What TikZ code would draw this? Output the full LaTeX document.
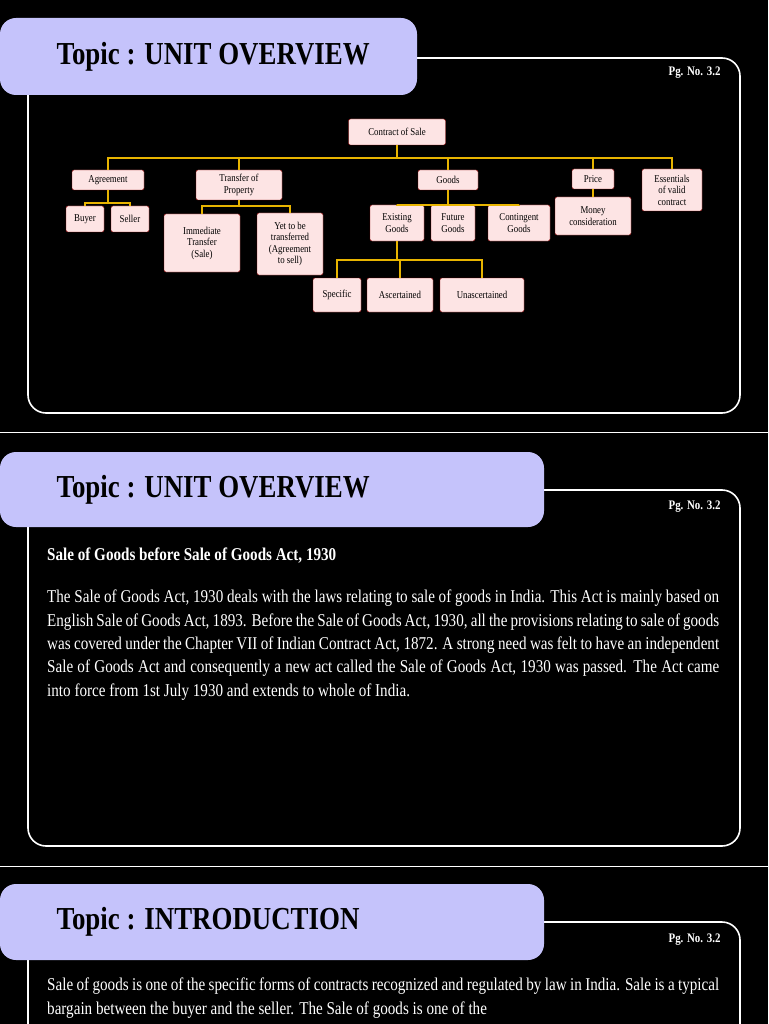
\documentclass[tikz,border=0pt]{standalone}
\usepackage{fontspec}
\setmainfont{Liberation Serif}[FakeStretch=0.84]
\begin{document}
\begin{tikzpicture}[x=1pt,y=-1pt,
  box/.style={draw=red!55!black,fill=boxfill,rounded corners=2pt,align=center,font=\fontsize{10.5}{11.5}\selectfont,inner sep=1pt},
  ln/.style={draw=linegold,line width=1.1pt},
  frame/.style={draw=white,line width=1.6pt,rounded corners=18pt},
  hdr/.style={fill=lav,rounded corners=16pt},
  ttl/.style={anchor=west,font=\fontsize{32}{34}\selectfont\bfseries},
  pg/.style={anchor=east,white,font=\fontsize{13}{14}\selectfont\bfseries},
  para/.style={anchor=north west,white,text width=672pt,align=justify,inner sep=0pt,font=\fontsize{18}{23.3}\selectfont}]
\definecolor{boxfill}{HTML}{FDE4E4}
\definecolor{linegold}{HTML}{E8B400}
\definecolor{lav}{HTML}{C5C3FB}
\fill[black] (0,0) rectangle (768,1024);
\useasboundingbox (0,0) rectangle (768,1024);
% separators
\draw[white,line width=0.8pt] (0,432) -- (768,432);
\draw[white,line width=0.8pt] (0,866) -- (768,866);
% panel 1
\draw[frame] (28,58) rectangle (740,413);
\fill[hdr] (0,18) rectangle (417,95);
\node[ttl] (t1) at (53,57) {Topic : UNIT OVERVIEW};
\node[pg] (p1) at (724,73) {Pg. No. 3.2};
% panel 2
\draw[frame] (28,490) rectangle (740,846);
\fill[hdr] (0,452) rectangle (544,527);
\node[ttl] (t2) at (53,490) {Topic : UNIT OVERVIEW};
\node[pg] (p2) at (724,507) {Pg. No. 3.2};
\node[anchor=west,white,font=\fontsize{18}{20}\selectfont\bfseries,inner sep=0pt] (h2) at (47,556) {Sale of Goods before Sale of Goods Act, 1930};
\node[para] (b2) at (47,590) {The Sale of Goods Act, 1930 deals with the laws relating to sale of goods in India. This Act is mainly based on English Sale of Goods Act, 1893. Before the Sale of Goods Act, 1930, all the provisions relating to sale of goods was covered under the Chapter VII of Indian Contract Act, 1872. A strong need was felt to have an independent Sale of Goods Act and consequently a new act called the Sale of Goods Act, 1930 was passed. The Act came into force from 1st July 1930 and extends to whole of India.};
% panel 3
\draw[frame] (28,922) -- (28,1060) (28,1060) rectangle (740,922);
\fill[hdr] (0,884) rectangle (544,960);
\node[ttl] (t3) at (53,922) {Topic : INTRODUCTION};
\node[pg] (p3) at (724,940) {Pg. No. 3.2};
\node[para] (b3) at (47,978) {Sale of goods is one of the specific forms of contracts recognized and regulated by law in India. Sale is a typical bargain between the buyer and the seller. The Sale of goods is one of the};
% diagram nodes
\node[box,minimum width=97pt,minimum height=26pt] (cs) at (397,132) {Contract of Sale};
\node[box,minimum width=72pt,minimum height=20pt] (ag) at (108,180) {Agreement};
\node[box,minimum width=86pt,minimum height=30pt] (tp) at (239,185) {Transfer of\\Property};
\node[box,minimum width=60pt,minimum height=20pt] (gd) at (448,180) {Goods};
\node[box,minimum width=42pt,minimum height=20pt] (pr) at (593,179) {Price};
\node[box,minimum width=60pt,minimum height=42pt] (es) at (672,190) {Essentials\\of valid\\contract};
\node[box,minimum width=38pt,minimum height=26pt] (by) at (85,219) {Buyer};
\node[box,minimum width=38pt,minimum height=26pt] (sl) at (130,219) {Seller};
\node[box,minimum width=76pt,minimum height=58pt] (im) at (202,243) {Immediate\\Transfer\\(Sale)};
\node[box,minimum width=66pt,minimum height=62pt] (yt) at (290,244) {Yet to be\\transferred\\(Agreement\\to sell)};
\node[box,minimum width=54pt,minimum height=36pt] (ex) at (397,223) {Existing\\Goods};
\node[box,minimum width=44pt,minimum height=36pt] (fu) at (453,223) {Future\\Goods};
\node[box,minimum width=62pt,minimum height=36pt] (co) at (519,223) {Contingent\\Goods};
\node[box,minimum width=76pt,minimum height=38pt] (mc) at (593,216) {Money\\consideration};
\node[box,minimum width=48pt,minimum height=34pt] (sp) at (337,295) {Specific};
\node[box,minimum width=66pt,minimum height=34pt] (as) at (400,295) {Ascertained};
\node[box,minimum width=84pt,minimum height=34pt] (un) at (482,295) {Unascertained};
% connectors
\coordinate (b0) at (397,158);
\draw[ln] (cs.south) -- (b0);
\foreach \n in {ag,tp,gd,pr,es} \draw[ln] (b0) -| (\n.north);
\coordinate (b1) at (108,203);
\draw[ln] (ag.south) -- (b1);
\foreach \n in {by,sl} \draw[ln] (b1) -| (\n.north);
\coordinate (b2c) at (239,206);
\draw[ln] (tp.south) -- (b2c);
\foreach \n in {im,yt} \draw[ln] (b2c) -| (\n.north);
\coordinate (b3c) at (448,205);
\draw[ln] (gd.south) -- (b3c);
\foreach \n in {ex,fu,co} \draw[ln] (b3c) -| (\n.north);
\draw[ln] (pr.south) -- (mc.north);
\coordinate (b4) at (397,260);
\draw[ln] (ex.south) -- (b4);
\foreach \n in {sp,as,un} \draw[ln] (b4) -| (\n.north);
\foreach \n in {cs,ag,tp,gd,pr,es,by,sl,im,yt,ex,fu,co,mc,sp,as,un} \node[box,minimum width=0pt,minimum height=0pt,draw=none,fill=none] at (\n) {};
\end{tikzpicture}
\end{document}
